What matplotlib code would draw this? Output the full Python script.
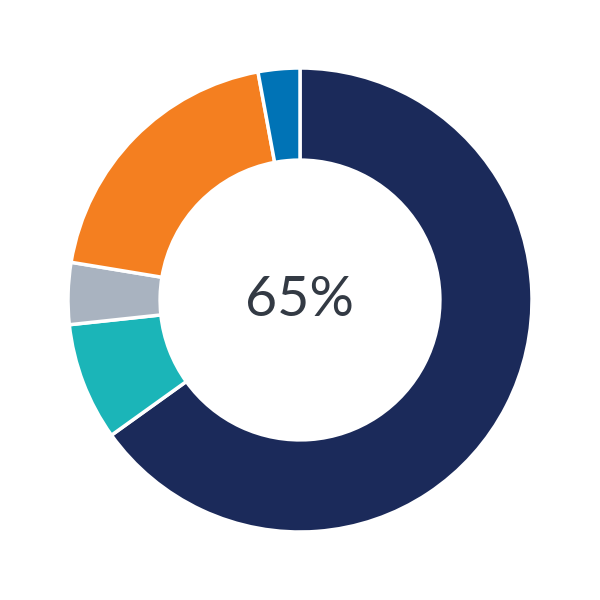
import matplotlib.pyplot as plt

labels = ['Navy', 'Teal', 'Gray', 'Orange', 'Blue']
values = [65.1, 8.2, 4.3, 19.5, 2.9]
colors = ['#1b2a5a', '#1bb5b8', '#a9b3c0', '#f47f20', '#0073b6']
center_label = '65%'

fig = plt.figure(figsize=(6, 6), dpi=100)
ax = fig.add_axes([0, 0, 1, 1])

ax.pie(values, colors=colors, startangle=90, counterclock=False,
       radius=1.0,
       wedgeprops=dict(width=0.397, edgecolor='white', linewidth=2.5))

ax.text(0, 0, center_label, ha='center', va='center', fontsize=40,
        family=['Lato', 'DejaVu Sans'], fontweight='normal', color='#333a44')

lim = 300 / 232
ax.set_xlim(-lim, lim)
ax.set_ylim(-lim, lim)
ax.set_aspect('equal')
ax.axis('off')

fig.savefig('out.png', dpi=100, facecolor='white')
